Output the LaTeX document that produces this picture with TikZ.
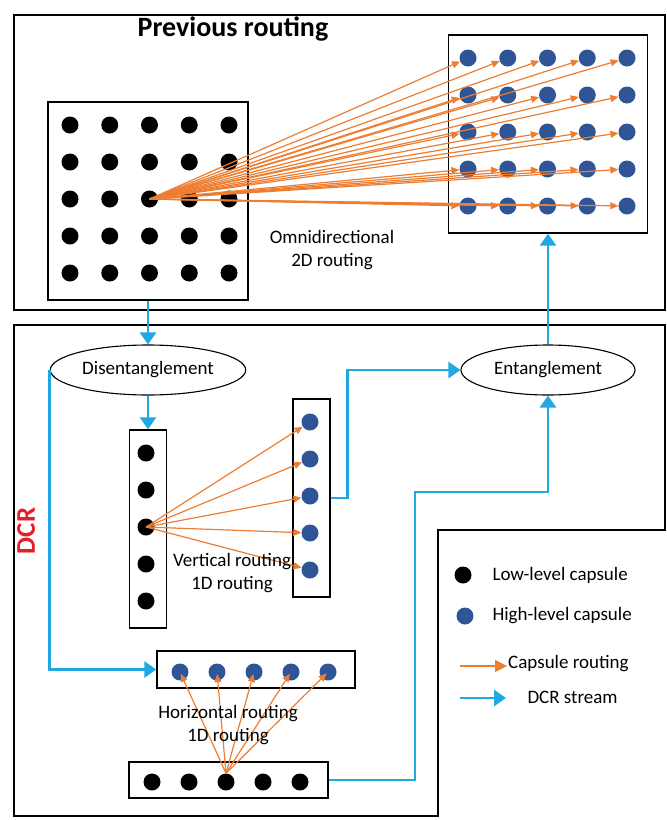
\documentclass[tikz,border=0pt]{standalone}
\usepackage{fontspec}
\setmainfont{Carlito}
\usetikzlibrary{arrows.meta,shapes.geometric}
\definecolor{routeorange}{RGB}{237,125,49}
\definecolor{streamblue}{RGB}{32,168,226}
\definecolor{capblue}{RGB}{47,85,151}
\definecolor{dcrred}{RGB}{230,30,40}
\tikzset{
  lowcap/.style={circle, fill=black, inner sep=0pt, minimum size=17pt},
  highcap/.style={circle, fill=capblue, inner sep=0pt, minimum size=17pt},
  capbox/.style={draw, line width=1.4pt, inner sep=0pt},
  stage/.style={draw, ellipse, line width=1.1pt, minimum width=174pt, minimum height=50pt, font=\fontsize{19}{23}\selectfont},
  route/.style={draw=routeorange, line width=1.2pt, -{Triangle[length=8pt,width=7pt]}},
  stream/.style={draw=streamblue, line width=2.8pt, -{Triangle[length=12pt,width=16pt]}},
  lbl/.style={font=\fontsize{19}{23}\selectfont, align=center}
}

\begin{document}
\begin{tikzpicture}[x=1pt,y=-1pt]
\useasboundingbox (0,0) rectangle (667,820);
\draw[line width=1.4pt] (14,15) rectangle (665,310);
\draw[line width=1.4pt] (14,325) -- (665,325) -- (665,530) -- (438,530) -- (438,816) -- (14,816) -- cycle;
\node[font=\fontsize{28}{32}\selectfont\bfseries] (prevtitle) at (233,29) {Previous routing};
\node[font=\fontsize{27}{30}\selectfont\bfseries, text=dcrred, rotate=90] (dcrtitle) at (26,531) {DCR};

\node[capbox, minimum width=200pt, minimum height=198pt] (lgrid) at (148,201) {};
\node[capbox, minimum width=199pt, minimum height=198pt] (hgrid) at (548,134) {};
\foreach \i in {1,...,5}
  \foreach \j in {1,...,5} {
    \node[lowcap] (lo-\i-\j) at ({70+39.75*(\j-1)},{125+37*(\i-1)}) {};
    \node[highcap] (hi-\i-\j) at ({468+39.75*(\j-1)},{58+37*(\i-1)}) {};
  }
\foreach \i in {1,...,5}
  \foreach \j in {1,...,5}
    \draw[route] (lo-3-3.center) -- (hi-\i-\j);
\node[lbl] (omnitext) at (332,250) {Omnidirectional\\2D routing};

\node[stage] (dis) at (148,370) {Disentanglement};
\node[stage] (ent) at (548,370) {Entanglement};

\node[capbox, minimum width=37pt, minimum height=198pt] (vlow) at (148,529) {};
\node[capbox, minimum width=37pt, minimum height=198pt] (vhigh) at (311.5,498) {};
\foreach \i in {1,...,5} {
  \node[lowcap] (vl-\i) at (146,{453+37*(\i-1)}) {};
  \node[highcap] (vh-\i) at (310,{422+37*(\i-1)}) {};
}
\foreach \i in {1,...,5}
  \draw[route] (vl-3.center) -- (vh-\i);
\node[lbl] (verttext) at (232,573) {Vertical routing\\1D routing};

\node[capbox, minimum width=198pt, minimum height=37pt] (hhigh) at (256,669.5) {};
\node[capbox, minimum width=199pt, minimum height=36pt] (hlow) at (228.5,780) {};
\foreach \i in {1,...,5} {
  \node[highcap] (hh-\i) at ({180+37*(\i-1)},672) {};
  \node[lowcap] (hl-\i) at ({152+37*(\i-1)},782) {};
}
\foreach \i in {1,...,5}
  \draw[route, shorten >=2pt] (hl-3.north) -- (hh-\i.center);
\node[lbl] (horitext) at (228,725) {Horizontal routing\\1D routing};

\draw[stream] (lgrid.south) -- (dis.north);
\draw[stream] (dis.south) -- (vlow.north);
\draw[stream] (dis.west) |- (hhigh.west);
\draw[stream] (vhigh.east) -- ++(17,0) |- (ent.west);
\coordinate (hbend) at (415,492);
\draw[stream] (hlow.east) -| (hbend) -| (ent.south);
\draw[stream] (ent.north) -- (hgrid.south);

\node[lowcap] (lowkey) at (463,575) {};
\node[lbl, anchor=west] (lowtext) at (489,575) {Low-level capsule};
\node[highcap] (highkey) at (465,616) {};
\node[lbl, anchor=west] (hightext) at (489,616) {High-level capsule};
\coordinate (routekey) at (460,666);
\node[lbl, anchor=west, inner sep=1pt] (routetext) at (507,664) {Capsule routing};
\draw[route, -{Triangle[length=12pt,width=12pt]}] (routekey) -- (routetext.west |- routekey);
\coordinate (streamkey) at (460,698);
\coordinate (streamtip) at (506,698);
\node[lbl, anchor=west] (streamtext) at (524,697) {DCR stream};
\draw[stream] (streamkey) -- (streamtip);
\end{tikzpicture}
\end{document}
